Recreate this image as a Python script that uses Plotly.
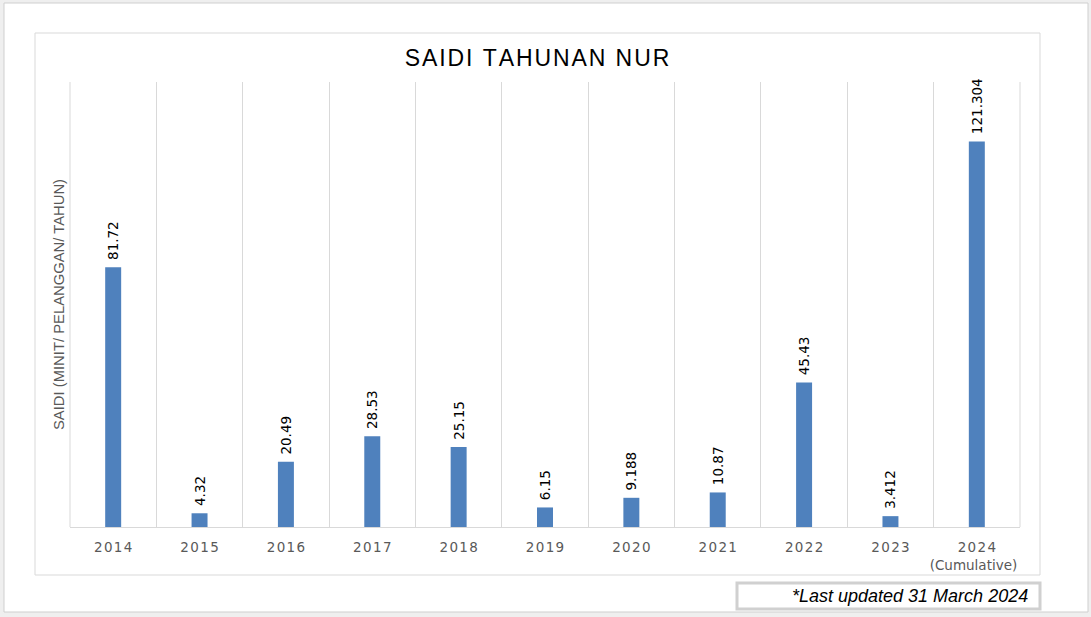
import plotly.graph_objects as go

# ---------------------------------------------------------------------------
# Data
# ---------------------------------------------------------------------------
years = ['2014', '2015', '2016', '2017', '2018', '2019',
         '2020', '2021', '2022', '2023', '2024']
saidi = [81.72, 4.32, 20.49, 28.53, 25.15, 6.15,
         9.188, 10.87, 45.43, 3.412, 121.304]
value_labels = ['81.72', '4.32', '20.49', '28.53', '25.15', '6.15',
                '9.188', '10.87', '45.43', '3.412', '121.304']
year_notes = {'2024': '(Cumulative)'}

TITLE = 'SAIDI TAHUNAN NUR'
Y_TITLE = 'SAIDI (MINIT/ PELANGGAN/ TAHUN)'
FOOTNOTE = '*Last updated 31 March 2024'

BAR_COLOUR = '#4f81bd'
GRID_COLOUR = '#d9d9d9'
TICK_COLOUR = '#595959'

W, H = 1091, 617
L, R, T, B = 70, 71, 82, 90   # plot area margins in px
PW, PH = W - L - R, H - T - B

HS = '\u200a'  # hair space, used to widen letter spacing


def spaced(s):
    return HS.join(s)


def px_x(x):
    return (x - L) / PW


def px_y(y):
    return (H - B - y) / PH


tick_text = []
for y in years:
    t = spaced(y)
    if y in year_notes:
        t += '<br><span style="font-size:13.5px">' + year_notes[y] + '\u2002</span>'
    tick_text.append(t)

fig = go.Figure(
    go.Bar(
        x=years,
        y=saidi,
        marker=dict(color=BAR_COLOUR, line=dict(width=0)),
        width=0.185,
        text=value_labels,
        texttemplate='\u00a0%{text}',  # small gap between bar top and label
        textposition='outside',
        textangle=-90,
        constraintext='none',
        cliponaxis=False,
        textfont=dict(family='DejaVu Sans', size=13.5, color='#000000'),
        hoverinfo='x+y',
    )
)

shapes = [
    # outer panel
    dict(type='rect', xref='paper', yref='paper',
         x0=px_x(4), x1=px_x(1088), y0=px_y(612), y1=px_y(3),
         line=dict(color='#cfcfcf', width=1), fillcolor='#ffffff', layer='below'),
    # chart box
    dict(type='rect', xref='paper', yref='paper',
         x0=px_x(35), x1=px_x(1040), y0=px_y(575), y1=px_y(33),
         line=dict(color=GRID_COLOUR, width=1), fillcolor='#ffffff', layer='below'),
    # left / right plot edges
    dict(type='line', xref='paper', yref='paper', x0=0, x1=0, y0=0, y1=1,
         line=dict(color=GRID_COLOUR, width=1), layer='below'),
    dict(type='line', xref='paper', yref='paper', x0=1, x1=1, y0=0, y1=1,
         line=dict(color=GRID_COLOUR, width=1), layer='below'),
    # footnote box
    dict(type='rect', xref='paper', yref='paper',
         x0=px_x(737), x1=px_x(1040), y0=px_y(609), y1=px_y(583),
         line=dict(color='#d0d0d0', width=3), fillcolor='#ffffff', layer='above'),
]

fig.update_layout(
    width=W,
    height=H,
    margin=dict(l=L, r=R, t=T, b=B),
    paper_bgcolor='#efefef',
    plot_bgcolor='rgba(0,0,0,0)',
    showlegend=False,
    bargap=0.8,
    title=dict(
        text=spaced(TITLE),
        x=537 / W, xref='container', xanchor='center',
        y=1 - 58 / H, yref='container', yanchor='middle',
        font=dict(family='Liberation Sans', size=23, color='#000000'),
    ),
    xaxis=dict(
        type='category',
        tickmode='array',
        tickvals=years,
        ticktext=tick_text,
        tickson='boundaries',
        tickangle=0,
        ticks='',
        ticklabelstandoff=8,
        showgrid=True,
        gridcolor=GRID_COLOUR,
        gridwidth=1,
        showline=True,
        linecolor=GRID_COLOUR,
        linewidth=1,
        tickfont=dict(family='DejaVu Sans', size=13.5, color=TICK_COLOUR),
        fixedrange=True,
    ),
    yaxis=dict(
        range=[0, 140],
        showgrid=False,
        zeroline=False,
        showticklabels=False,
        ticks='',
        title=dict(text=Y_TITLE, standoff=0,
                   font=dict(family='Liberation Sans', size=14.8, color=TICK_COLOUR)),
        fixedrange=True,
    ),
    shapes=shapes,
    annotations=[
        dict(text='<i>' + FOOTNOTE + '</i>', xref='paper', yref='paper',
             x=px_x(1030), y=px_y(596), xanchor='right', yanchor='middle',
             showarrow=False,
             font=dict(family='Liberation Sans', size=18, color='#000000')),
    ],
)

fig.write_html('out.html', config={'displayModeBar': False},
               post_script="document.body.style.margin='0';")
